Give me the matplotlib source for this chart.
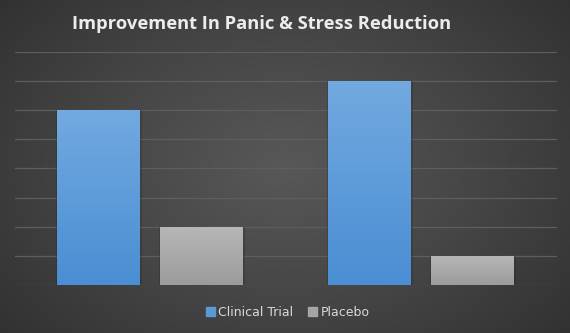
import numpy as np
import matplotlib.pyplot as plt
from matplotlib.patches import Patch

groups = ['Group 1', 'Group 2']
clinical = [6, 7]
placebo = [2, 1]
series = ['Clinical Trial', 'Placebo']

fig = plt.figure(figsize=(5.7, 3.33), dpi=100)

# radial background, lighter in the middle
bg = fig.add_axes([0, 0, 1, 1], zorder=0)
yy, xx = np.mgrid[-1:1:200j, -1:1:340j]
r = np.sqrt((xx * 0.9) ** 2 + (yy * 0.75) ** 2)
bg.imshow(r, cmap=plt.cm.colors.LinearSegmentedColormap.from_list(
    'bg', ['#585858', '#454545', '#2f2f2f']), vmin=0, vmax=1.25,
    aspect='auto', extent=[0, 1, 0, 1])
bg.set_xlim(0, 1)
bg.set_ylim(0, 1)
bg.axis('off')

ax = fig.add_axes([0.026, 0.144, 0.951, 0.7], zorder=1)
ax.patch.set_alpha(0)

x = np.arange(len(groups))
w = 0.306
off = 0.19

def gradient_bars(xpos, vals, top, bottom):
    bars = ax.bar(xpos, vals, w, color=bottom, zorder=3, linewidth=0)
    cmap = plt.cm.colors.LinearSegmentedColormap.from_list('g', [bottom, top])
    grad = np.linspace(0, 1, 100).reshape(-1, 1)
    for b in bars:
        bx, by = b.get_x(), b.get_y()
        im = ax.imshow(grad, cmap=cmap, aspect='auto', origin='lower',
                       extent=[bx, bx + b.get_width(), by, by + b.get_height()],
                       zorder=4)
        im.set_clip_path(b)
        # soft shadow on the sides
        ax.bar(bx + b.get_width() / 2, b.get_height(), b.get_width() + 0.01,
               color='#222222', alpha=0.25, zorder=2, linewidth=0)
    return bars

gradient_bars(x - off, clinical, '#72a9e0', '#4a8ed3')
gradient_bars(x + off, placebo, '#b7b7b7', '#9c9c9c')

ax.set_xlim(-0.5, 1.5)
ax.set_ylim(0, 8)
ax.set_yticks(range(0, 9))
ax.yaxis.grid(True, color='#5e5e5e', linewidth=0.9)
ax.set_axisbelow(True)
ax.tick_params(left=False, bottom=False, labelleft=False, labelbottom=False)
for s in ax.spines.values():
    s.set_visible(False)

fig.text(0.459, 0.927, 'Improvement In Panic & Stress Reduction',
         ha='center', va='center', color='#ececec', fontsize=13.2,
         fontweight='bold', family='Open Sans')

handles = [Patch(color='#5b9bd5'), Patch(color='#a5a5a5')]
fig.legend(handles, series, loc='center', bbox_to_anchor=(0.505, 0.063),
           ncol=2, frameon=False, fontsize=9, labelcolor='#d9d9d9',
           handlelength=0.7, handleheight=0.7, handletextpad=0.3,
           columnspacing=1.2)

fig.savefig('out.png', dpi=100)
